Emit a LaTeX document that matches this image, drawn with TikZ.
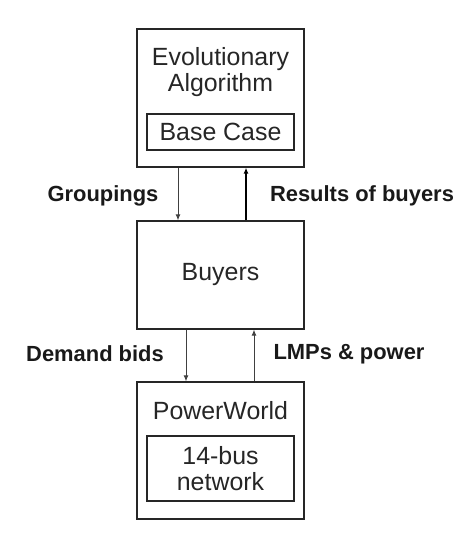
\documentclass[tikz,border=0pt]{standalone}
\usepackage{fontspec}
\setmainfont{Liberation Sans}
\usetikzlibrary{arrows.meta}
\begin{document}
\begin{tikzpicture}[x=1bp,y=-1bp,
  box/.style={draw=black!85,line width=1.3bp,minimum width=167bp,inner sep=0pt,anchor=center},
  inbox/.style={draw=black!85,line width=1.1bp,minimum width=147bp,inner sep=0pt,anchor=center},
  txt/.style={font=\fontsize{25}{26}\selectfont,text=black!85,align=center,inner sep=0pt},
  lbl/.style={font=\fontsize{22}{23}\selectfont\bfseries,text=black!90,inner sep=0pt},
  arr/.style={draw=black!75,line width=0.9bp,-{Latex[length=6bp,width=5bp]}}]
\useasboundingbox (0,0) rectangle (474,535);
\node[box,minimum height=138bp] (ea) at (220.5,98) {};
\node[txt] (eat) at (220.5,72) {Evolutionary\\Algorithm};
\node[inbox,minimum height=36bp] (base) at (220.5,132) {};
\node[txt] (baset) at (220.5,132) {Base Case};
\node[box,minimum height=108bp] (buy) at (220.5,275) {};
\node[txt] (buyt) at (220.5,275) {Buyers};
\node[box,minimum height=137bp] (pw) at (220.5,450.5) {};
\node[txt] (pwt) at (220.5,411) {PowerWorld};
\node[inbox,minimum height=65bp] (net) at (220.5,468.5) {};
\node[txt] (nett) at (220.5,468.5) {14-bus\\network};
\draw[arr] ([xshift=-42.5bp]ea.south) -- ([xshift=-42.5bp]buy.north);
\draw[arr,draw=black,line width=1.3bp] ([xshift=25.5bp]buy.north) -- ([xshift=25.5bp]ea.south);
\draw[arr] ([xshift=-34.5bp]buy.south) -- ([xshift=-34.5bp]pw.north);
\draw[arr] ([xshift=33.5bp]pw.north) -- ([xshift=33.5bp]buy.south);
\node[lbl] (l1) at (103,196) {Groupings};
\node[lbl] (l2) at (362,196) {Results of buyers};
\node[lbl] (l3) at (95,354) {Demand bids};
\node[lbl] (l4) at (349,354) {LMPs \& power};
\end{tikzpicture}
\end{document}
